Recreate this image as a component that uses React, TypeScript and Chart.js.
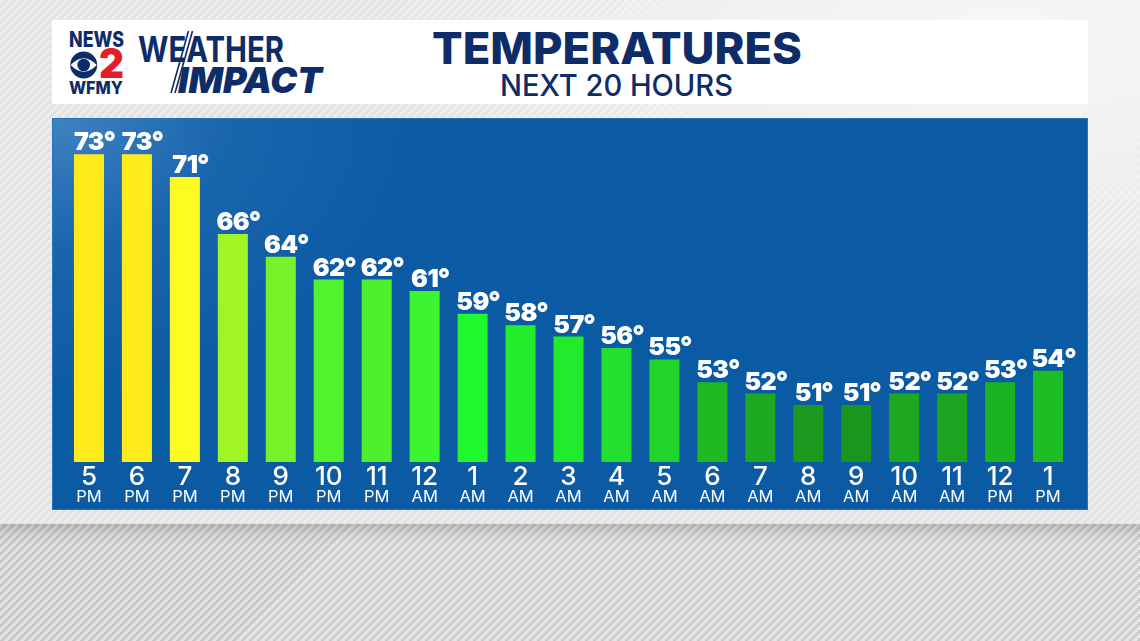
import React, { useEffect, useRef } from "react";
import { Chart, registerables } from "chart.js";

Chart.register(...registerables);

const hours = ["5", "6", "7", "8", "9", "10", "11", "12", "1", "2", "3", "4", "5", "6", "7", "8", "9", "10", "11", "12", "1"];
const periods = ["PM", "PM", "PM", "PM", "PM", "PM", "PM", "AM", "AM", "AM", "AM", "AM", "AM", "AM", "AM", "AM", "AM", "AM", "AM", "PM", "PM"];
const temps = [73, 73, 71, 66, 64, 62, 62, 61, 59, 58, 57, 56, 55, 53, 52, 51, 51, 52, 52, 53, 54];
const barColors = [
  "#FFEA1A", "#FFEC1A", "#FFFA22", "#A0F625", "#76F22A", "#52F22C", "#4EF02C",
  "#3CF52E", "#1EF82C", "#22EE2D", "#22EA2D", "#22E02D", "#20D42B", "#1FB924",
  "#1DAA22", "#1B9A1F", "#1A961E", "#1DA81F", "#1CA420", "#1CB322", "#1EBD25",
];

const NAVY = "#0e2c68";

const labelsPlugin = {
  id: "tempLabels",
  afterDatasetsDraw(chart: any) {
    const ctx = chart.ctx;
    const meta = chart.getDatasetMeta(0);
    const xs = chart.scales.x;
    const bottom = chart.chartArea.bottom;
    ctx.save();
    ctx.fillStyle = "#ffffff";
    ctx.textBaseline = "alphabetic";
    meta.data.forEach((bar: any, i: number) => {
      const txt = String(temps[i]);
      ctx.font = "900 25px Inter";
      (ctx as any).letterSpacing = "-0.5px";
      ctx.textAlign = "center";
      const w = ctx.measureText(txt).width;
      ctx.fillText(txt, bar.x, bar.y - 4);
      (ctx as any).letterSpacing = "0px";
      ctx.textAlign = "left";
      ctx.font = "900 27px Inter";
      ctx.fillText("°", bar.x + w / 2 - 0.5, bar.y - 3);
    });
    hours.forEach((h, i) => {
      const x = xs.getPixelForValue(i);
      ctx.textAlign = "center";
      ctx.font = "500 26px Inter";
      ctx.fillText(h, x, bottom + 23);
      ctx.font = "400 16.5px Inter";
      ctx.fillText(periods[i], x, bottom + 39.5);
    });
    ctx.restore();
  },
};

function TempChart() {
  const ref = useRef<HTMLCanvasElement | null>(null);
  useEffect(() => {
    if (!ref.current) return;
    const chart = new Chart(ref.current, {
      type: "bar",
      data: {
        labels: hours.map((h, i) => `${h} ${periods[i]}`),
        datasets: [
          {
            data: temps,
            backgroundColor: barColors,
            borderWidth: 0,
            barPercentage: 1,
            categoryPercentage: 0.626,
          },
        ],
      },
      options: {
        animation: false,
        responsive: true,
        maintainAspectRatio: false,
        layout: { padding: { left: 13, right: 16, top: 2, bottom: 48 } },
        plugins: { legend: { display: false }, tooltip: { enabled: false } },
        scales: {
          x: { display: false, offset: true },
          y: { display: false, min: 46, max: 76 },
        },
      },
      plugins: [labelsPlugin],
    });
    return () => chart.destroy();
  }, []);
  return (
    <div style={{ position: "absolute", left: 0, top: 0, width: 1036, height: 392 }}>
      <canvas ref={ref} />
    </div>
  );
}

function Header() {
  return (
    <svg width={1140} height={110} style={{ position: "absolute", left: 0, top: 0 }}>
      <rect x={52} y={20} width={1036} height={84} fill="#ffffff" />
      {/* NEWS 2 WFMY logo */}
      <text x={69} y={47} fontFamily="Inter" fontWeight={800} fontSize={21} fill={NAVY} textLength={55} lengthAdjust="spacingAndGlyphs">NEWS</text>
      <circle cx={83.7} cy={65} r={13.5} fill={NAVY} />
      <path d="M 70.6 65 Q 83.7 51.5 96.8 65 Q 83.7 78.5 70.6 65 Z" fill="#ffffff" />
      <circle cx={83.7} cy={65} r={6.3} fill={NAVY} />
      <text x={99} y={78} fontFamily="Inter" fontWeight={900} fontSize={41} fill="#e11f26" textLength={25} lengthAdjust="spacingAndGlyphs">2</text>
      <text x={69} y={93.5} fontFamily="Inter" fontWeight={800} fontSize={18} fill={NAVY} textLength={54} lengthAdjust="spacingAndGlyphs">WFMY</text>
      <text x={138} y={61.7} fontFamily="Inter" fontWeight={700} fontSize={36} fill={NAVY} textLength={146} lengthAdjust="spacingAndGlyphs">WEATHER</text>
      <text x={178} y={93.3} fontFamily="Inter" fontWeight={900} fontStyle="italic" fontSize={36} fill={NAVY} textLength={144} lengthAdjust="spacingAndGlyphs">IMPACT</text>
      <line x1={188.5} y1={31} x2={171} y2={93} stroke={NAVY} strokeWidth={1.6} />
      <line x1={192.5} y1={31} x2={175} y2={93} stroke={NAVY} strokeWidth={1.6} />
      {/* Title */}
      <text x={432} y={64} fontFamily="Inter" fontWeight={800} fontSize={44} fill={NAVY} textLength={370} lengthAdjust="spacingAndGlyphs">TEMPERATURES</text>
      <text x={500} y={96} fontFamily="Inter" fontWeight={500} fontSize={30} fill={NAVY} textLength={233} lengthAdjust="spacingAndGlyphs">NEXT 20 HOURS</text>
    </svg>
  );
}

export default function App() {
  return (
    <div
      style={{
        position: "absolute",
        left: 0,
        top: 0,
        width: 1140,
        height: 641,
        overflow: "hidden",
        fontFamily: "Inter, sans-serif",
      }}
    >
      {/* upper background */}
      <div
        style={{
          position: "absolute",
          left: 0,
          top: 0,
          width: 1140,
          height: 524,
          backgroundColor: "#ebebeb",
          backgroundImage:
            "radial-gradient(ellipse 700px 300px at 1000px 40px, rgba(247,247,247,1) 0%, rgba(247,247,247,0) 100%), repeating-linear-gradient(135deg, #ebebeb 0px, #ebebeb 3.6px, #e1e1e1 3.6px, #e1e1e1 5.66px)",
        }}
      />
      {/* lower background */}
      <div
        style={{
          position: "absolute",
          left: 0,
          top: 524,
          width: 1140,
          height: 117,
          backgroundColor: "#e3e3e3",
          backgroundImage:
            "linear-gradient(to bottom, rgba(0,0,0,0.16) 0px, rgba(0,0,0,0.05) 10px, rgba(0,0,0,0) 22px), repeating-linear-gradient(135deg, #e4e4e4 0px, #e4e4e4 3.4px, #c9c9c9 3.4px, #c9c9c9 5.66px)",
        }}
      />
      <Header />
      {/* blue panel */}
      <div
        style={{
          position: "absolute",
          left: 52,
          top: 118,
          width: 1036,
          height: 392,
          background:
            "radial-gradient(ellipse 380px 280px at 0px 0px, #3f82c2 0%, #1a66ad 45%, #0b5aa4 100%), #0b5aa4",
          boxShadow: "inset 0 0 0 1px #2a72b6",
        }}
      >
        <TempChart />
      </div>
    </div>
  );
}
